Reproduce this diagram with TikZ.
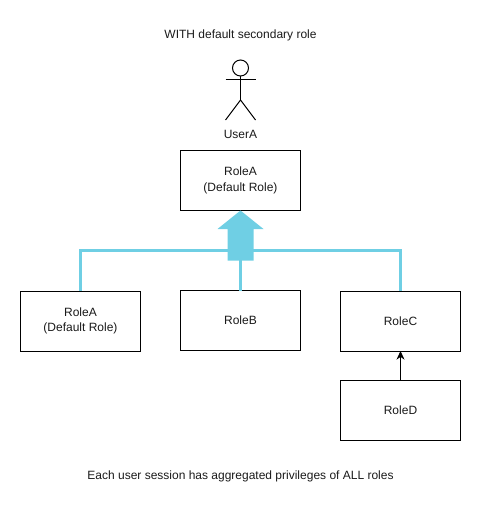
\documentclass[tikz,border=0pt]{standalone}
\usepackage{fontspec}
\setmainfont{Liberation Sans}
\usetikzlibrary{arrows.meta}
\definecolor{skyline}{HTML}{6FCFE4}
\definecolor{inkgrey}{HTML}{1A1A1A}
\tikzset{
  rolebox/.style={draw=black,fill=white,line width=0.75pt,minimum width=90pt,minimum height=45pt,inner sep=0pt,outer sep=0pt,align=center,font=\fontsize{9pt}{11.6pt}\selectfont,text=inkgrey},
  caption/.style={inner sep=0pt,outer sep=0pt,font=\fontsize{9pt}{10.8pt}\selectfont,text=inkgrey},
  feed/.style={draw=skyline,line width=2.25pt,line cap=butt,line join=miter},
  limb/.style={draw=black,line width=0.75pt},
  head/.style={circle,draw=black,line width=0.75pt,minimum size=12pt,inner sep=0pt,outer sep=0pt},
  thin arrow/.style={draw=black,line width=0.75pt,-{Stealth[length=6.5pt,width=6pt]}}
}
\begin{document}
\begin{tikzpicture}[x=0.75pt,y=-0.75pt]
\useasboundingbox (0,0) rectangle (481,510);
\node[caption] (title) at (240.5,35) {WITH default secondary role};
% actor
\node[head] (userhead) at (240.5,68) {};
\coordinate (hip) at (240.5,100);
\coordinate (handl) at (225.5,80);
\coordinate (handr) at (255.5,80);
\coordinate (footl) at (225.5,120);
\coordinate (footr) at (255.5,120);
\draw[limb] (userhead.south) -- (hip);
\draw[limb] (handl) -- (handr);
\draw[limb] (footl) -- (hip) -- (footr);
\node[caption] (userlabel) at (240.5,134.5) {UserA};
% boxes
\node[rolebox] (top) at (240.5,180.5) {RoleA\\(Default Role)};
\node[rolebox] (left) at (80.5,321) {RoleA\\(Default Role)};
\node[rolebox] (mid) at (240.5,320.5) {RoleB};
\node[rolebox] (right) at (400.5,321) {RoleC};
\node[rolebox] (bottom) at (400.5,410.5) {RoleD};
% connectors
\coordinate (junction) at (240.5,250.5);
\coordinate (tip) at (240.5,210.5);
\draw[feed] (left.north) |- (junction);
\draw[feed] (right.north) |- (junction);
\draw[feed] (mid.north) -- (junction);
\fill[skyline] (tip) -- (263.5,229) -- (253.5,229) -- (253.5,260.5) -- (227.5,260.5) -- (227.5,229) -- (217.5,229) -- cycle;
\draw[thin arrow] (bottom.north) -- (right.south);
\node[caption] (note) at (240.5,476) {Each user session has aggregated privileges of ALL roles};
\end{tikzpicture}
\end{document}
